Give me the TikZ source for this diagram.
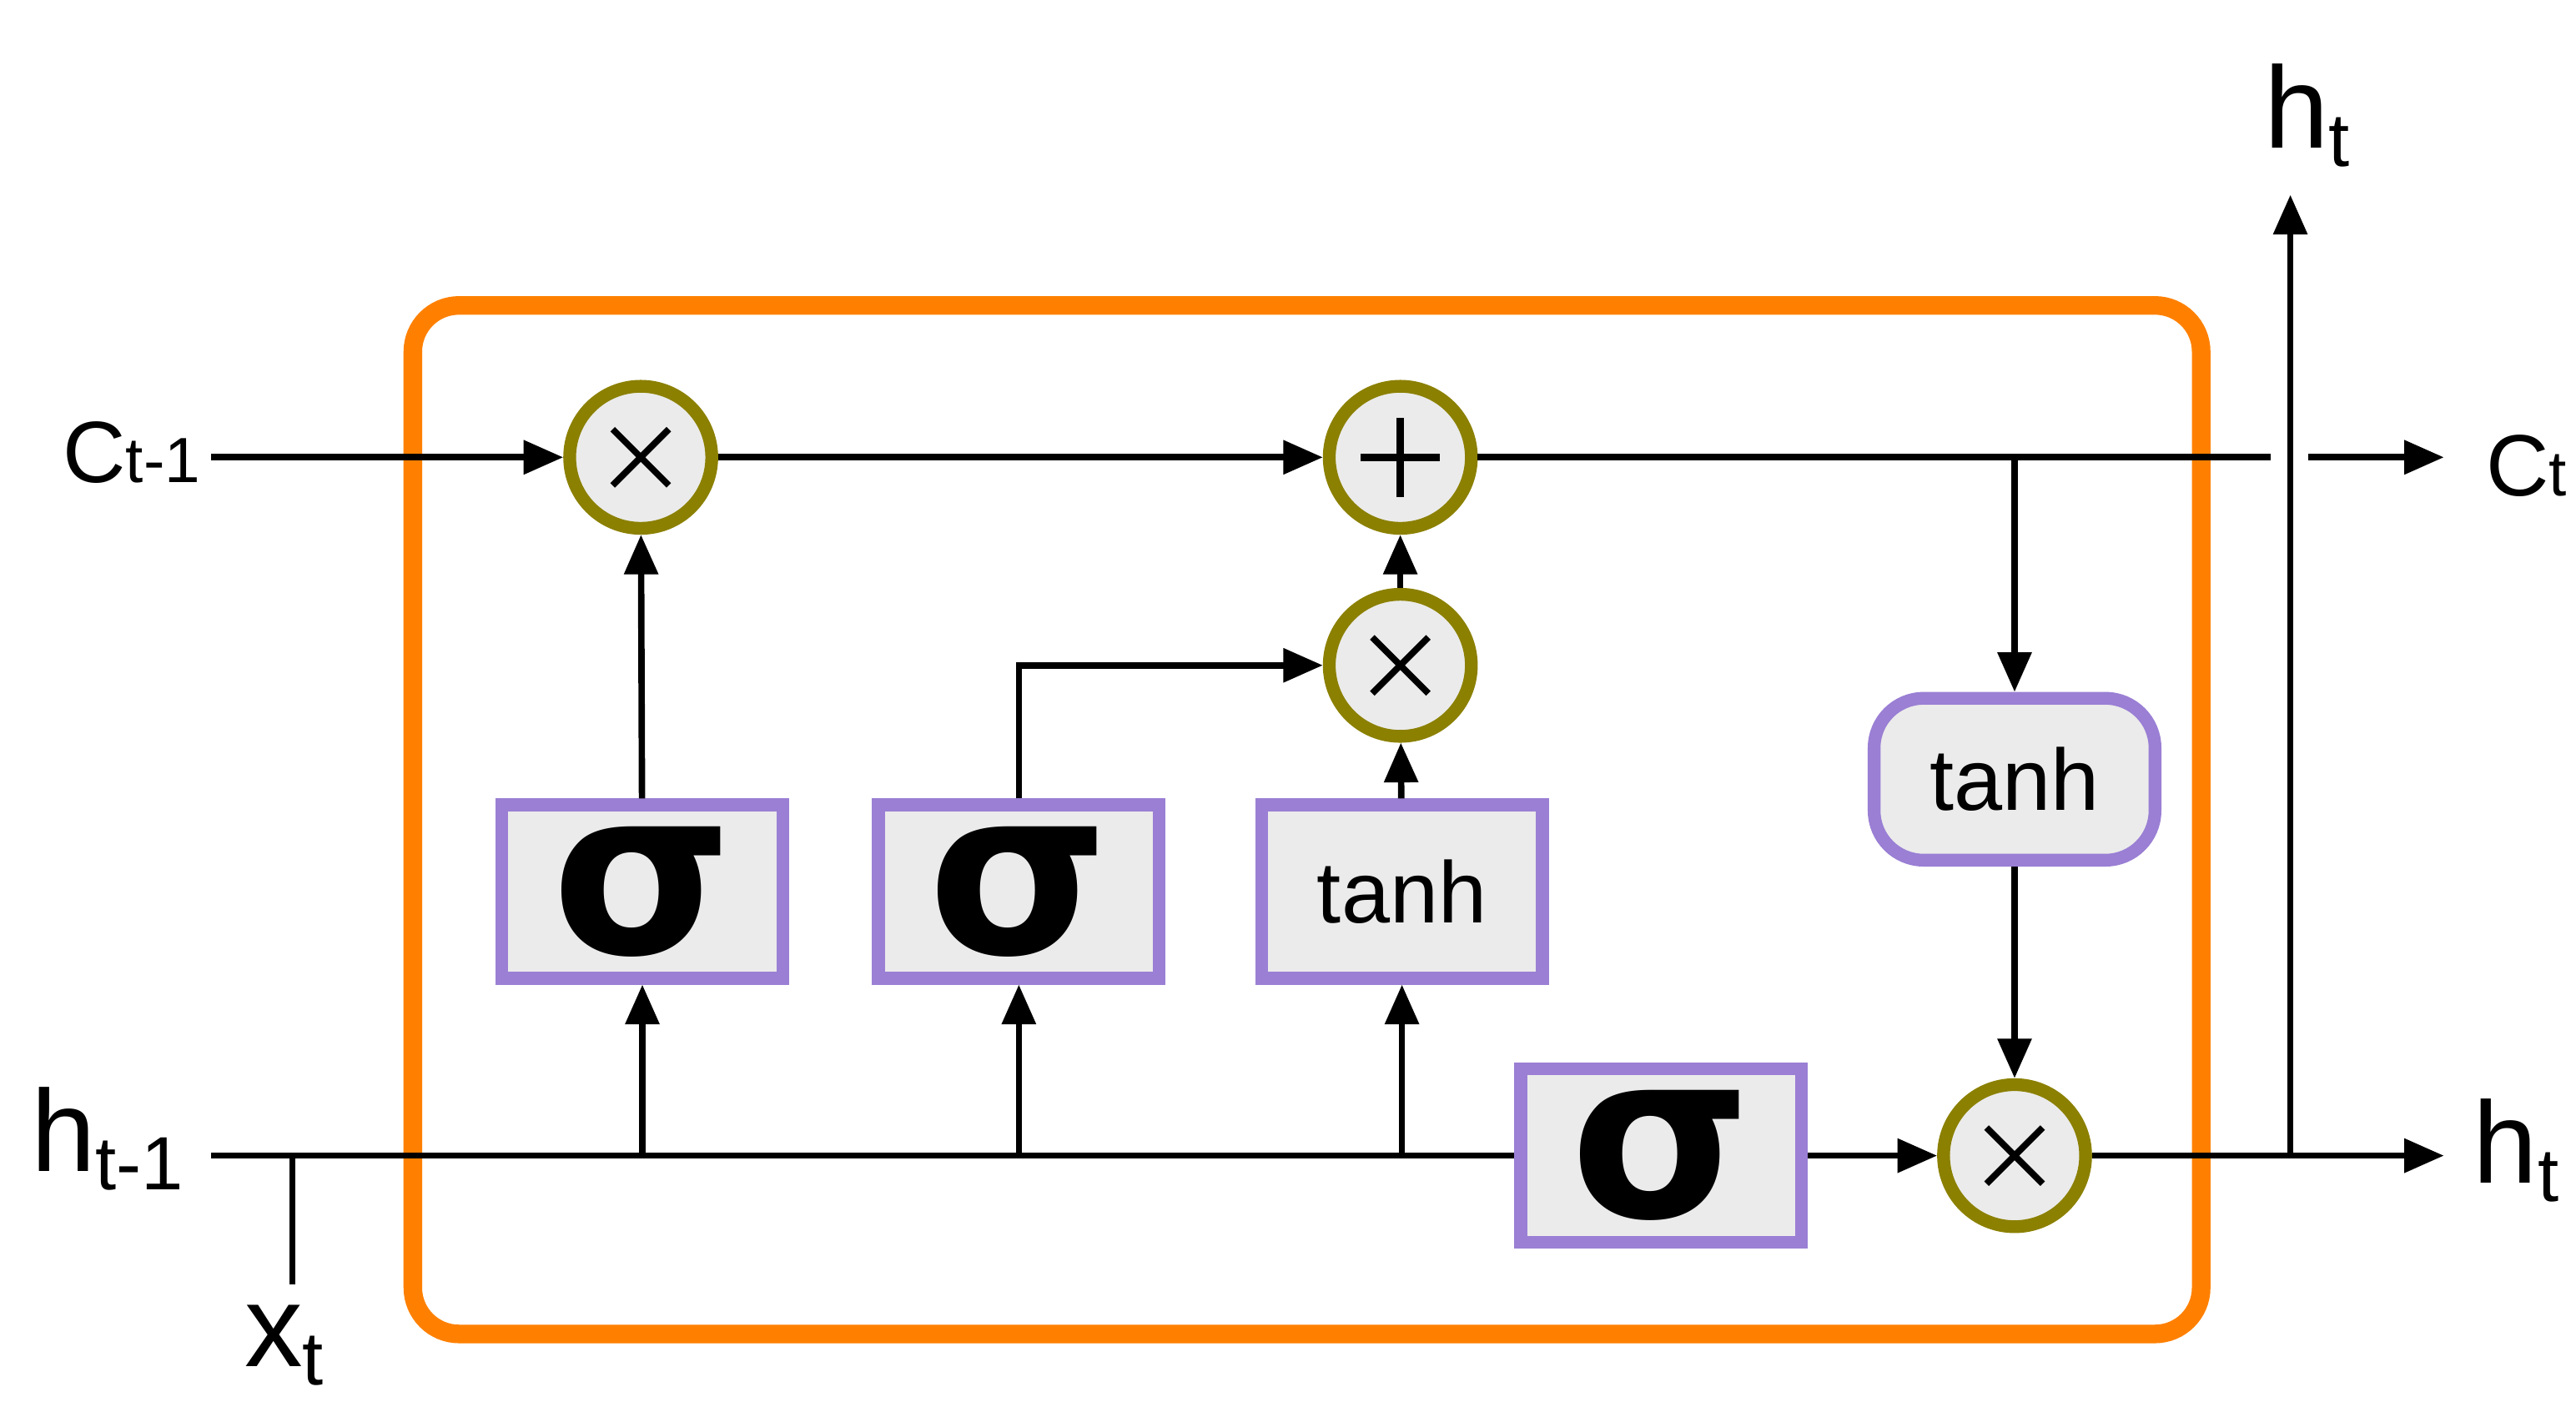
\documentclass[tikz,border=0pt]{standalone}
\usepackage{fontspec}
\setmainfont{Liberation Sans}
\newfontfamily\sigfont{DejaVu Sans}
\usetikzlibrary{arrows.meta}
\definecolor{orng}{HTML}{FF8000}
\definecolor{olv}{HTML}{8B8000}
\definecolor{purp}{HTML}{9A7FD4}
\definecolor{gfill}{HTML}{EBEBEB}
\begin{document}
\begin{tikzpicture}[x=0.01cm,y=-0.01cm,
  ln/.style={line width=1.1pt},
  ar/.style={ln,-{Triangle[length=0.24cm,width=0.2cm]}},
  op/.style={circle,draw=olv,fill=gfill,line width=2.2pt,minimum size=0.86cm,inner sep=0pt},
  box/.style={rectangle,draw=purp,fill=gfill,line width=2.2pt,minimum width=1.7cm,minimum height=1.05cm,inner sep=0pt},
  sig/.style={font=\sigfont\fontsize{40}{40}\selectfont\bfseries},
  th/.style={font=\fontsize{15}{15}\selectfont},
  lab/.style={font=\fontsize{15}{15}\selectfont,inner sep=0pt},
  hlab/.style={font=\fontsize{20}{20}\selectfont,inner sep=0pt}]
\useasboundingbox (0,0) rectangle (1560,852);
\draw[orng,line width=3.2pt,rounded corners=0.28cm] (250,185) rectangle (1333,808);
% nodes
\node[op] (m1) at (388,277) {};
\node[op] (pl) at (848,277) {};
\node[op] (m2) at (848,403) {};
\node[op] (m3) at (1220,700) {};
\foreach \n in {m1,m2,m3}{\draw[line width=1.1pt] ([shift={(-17,-17)}]\n.center) -- ([shift={(17,17)}]\n.center) ([shift={(-17,17)}]\n.center) -- ([shift={(17,-17)}]\n.center);}
\draw[line width=1.3pt] ([shift={(-24,0)}]pl.center) -- ([shift={(24,0)}]pl.center) ([shift={(0,-24)}]pl.center) -- ([shift={(0,24)}]pl.center);
\node[box,sig] (s1) at (389,540) {σ};
\node[box,sig] (s2) at (617,540) {σ};
\node[box,th] (t1) at (849,540) {tanh};
\node[box,sig] (s3) at (1006,700) {σ};
\node[box,th,rounded corners=0.3cm,minimum height=0.98cm] (t2) at (1220,472) {tanh};
% labels
\node[lab,anchor=east] (cl) at (122,274) {C\fontsize{11}{11}\selectfont t-1};
\node[lab,anchor=west] (cr) at (1505,282) {C\fontsize{11}{11}\selectfont t};
\node[hlab,anchor=east] (hl) at (112,690) {h\raisebox{-0.3ex}{\fontsize{13}{13}\selectfont t-1}};
\node[hlab,anchor=west] (hr) at (1497,697) {h\raisebox{-0.3ex}{\fontsize{13}{13}\selectfont t}};
\node[hlab] (ht) at (1397,70) {h\raisebox{-0.3ex}{\fontsize{13}{13}\selectfont t}};
\node[hlab] (xt) at (172,815) {x\raisebox{-0.3ex}{\fontsize{13}{13}\selectfont t}};
% coordinates
\coordinate (c0) at (128,277);
\coordinate (h0) at (128,700);
\coordinate (cb) at (1220,277);
\coordinate (g1) at (1375,277);
\coordinate (g2) at (1398,277);
\coordinate (ce) at (1480,277);
\coordinate (he) at (1480,700);
\coordinate (hv) at (1387,700);
\coordinate (htop) at (1387,118);
\coordinate (x0) at (177,700);
\coordinate (x1) at (177,778);
\coordinate (s2c) at (617,403);
% cell state
\draw[ar] (c0) -- (m1);
\draw[ar] (m1) -- (pl);
\draw[ln] (pl) -- (g1);
\draw[ar] (g2) -- (ce);
\draw[ar] (cb) -- (t2);
\draw[ar] (t2) -- (m3);
% hidden
\draw[ln] (h0) -- (s3.west);
\draw[ar] (s3) -- (m3);
\draw[ar] (m3) -- (he);
\draw[ar] (hv) -- (htop);
\draw[ln] (x0) -- (x1);
\draw[ar] (s1.south |- h0) -- (s1.south);
\draw[ar] (s2.south |- h0) -- (s2.south);
\draw[ar] (t1.south |- h0) -- (t1.south);
\draw[ar] (s1) -- (m1);
\draw[ar] (s2.north) -- (s2c) -- (m2);
\draw[ar] (t1) -- (m2);
\draw[ar] (m2) -- (pl);
\end{tikzpicture}
\end{document}
